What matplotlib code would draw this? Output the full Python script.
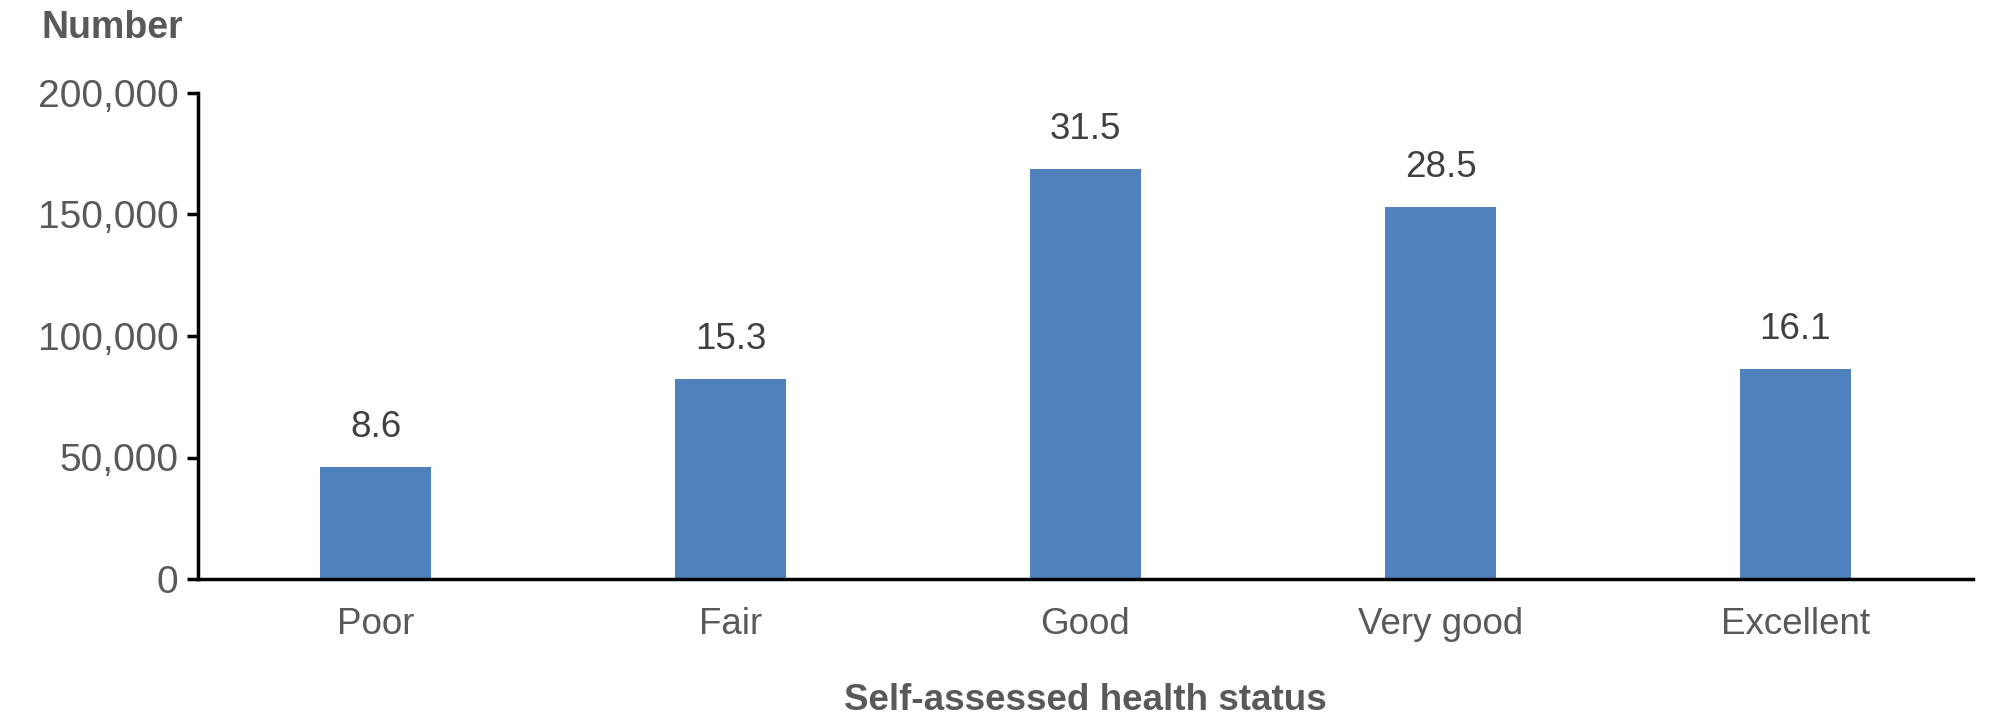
import matplotlib.pyplot as plt
from matplotlib.ticker import FuncFormatter

plt.rcParams['font.family'] = ['Liberation Sans', 'DejaVu Sans']

categories = ['Poor', 'Fair', 'Good', 'Very good', 'Excellent']
counts = [46000, 82100, 168600, 153000, 86300]
percents = ['8.6', '15.3', '31.5', '28.5', '16.1']
yticks = [0, 50000, 100000, 150000, 200000]

fig = plt.figure(figsize=(20.07, 7.25), dpi=100)
ax = fig.add_axes([198 / 2007, 1 - 579 / 725, (1973 - 198) / 2007, (579 - 93) / 725])

xpos = list(range(len(categories)))
bars = ax.bar(xpos, counts, width=0.315, color='#4F81BD')

for x, c, p in zip(xpos, counts, percents):
	ax.annotate(p, (x, c), xytext=(0, 22), textcoords='offset points',
	            ha='center', va='baseline', fontsize=26.5, color='#404040')

ax.set_xlim(-0.5, 4.5)
ax.set_ylim(0, 200000)
ax.set_yticks(yticks)
ax.yaxis.set_major_formatter(FuncFormatter(lambda v, _: f'{int(v):,}'))
ax.set_xticks(xpos)
ax.set_xticklabels(categories)

ax.spines['top'].set_visible(False)
ax.spines['right'].set_visible(False)
ax.spines['left'].set_linewidth(2.5)
ax.spines['bottom'].set_linewidth(2.5)

ax.tick_params(axis='y', length=8, width=2.5, pad=6, labelsize=28, labelcolor='#595959')
ax.tick_params(axis='x', length=0, pad=20, labelsize=26.5, labelcolor='#595959')

fig.text(41 / 2007, 1 - 28 / 725, 'Number', fontsize=27, fontweight='bold',
         color='#595959', ha='left', va='center')
ax.set_xlabel('Self-assessed health status', fontsize=26.5, fontweight='bold',
              color='#595959', labelpad=30)

fig.savefig('out.png', dpi=100)
